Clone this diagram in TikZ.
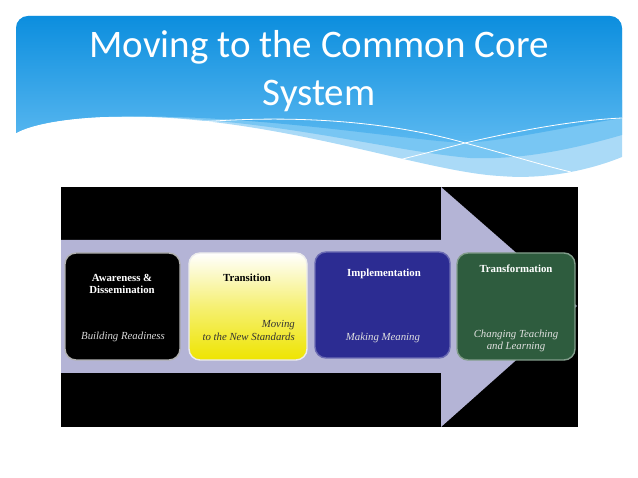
\documentclass[tikz,border=0pt]{standalone}
\usepackage{fontspec}
\setmainfont{Liberation Serif}
\newfontfamily\slidefont{Carlito}
\usepackage{xcolor}
\usetikzlibrary{positioning, calc}
\definecolor{hdtop}{RGB}{12,142,222}
\definecolor{hdbot}{RGB}{90,184,240}
\definecolor{hdmid}{RGB}{120,198,243}
\definecolor{hdlight}{RGB}{170,218,247}
\definecolor{arrowgray}{RGB}{180,180,214}
\definecolor{stageylw}{RGB}{238,228,0}
\definecolor{stageblue}{RGB}{44,44,146}
\definecolor{stagegreen}{RGB}{46,92,62}
\tikzset{
  stagebox/.style={rectangle, rounded corners=11pt, line width=1.4pt, inner sep=0pt},
  stagehead/.style={font=\fontsize{10.8}{12.5}\selectfont\bfseries, align=center, inner sep=0pt},
  stagesub/.style={font=\fontsize{10.8}{13}\selectfont\itshape, align=center, inner sep=0pt},
  waveline/.style={white, line width=0.8pt},
}

\begin{document}
\begin{tikzpicture}[x=1pt, y=-1pt]
  \useasboundingbox (0,0) rectangle (638,478);
  % header band with wave (y runs downwards, so angles are mirrored)
  \fill[hdlight] (16,133) -- (16,28) arc[start angle=180, end angle=270, radius=12] -- (610,16)
    arc[start angle=270, end angle=360, radius=12] -- (622,157)
    .. controls (590,170) and (545,180) .. (500,176)
    .. controls (420,172) and (260,110) .. (100,117)
    .. controls (60,119) and (30,125) .. (16,133) -- cycle;
  \fill[hdmid] (16,133) -- (16,100) -- (622,100) -- (622,135)
    .. controls (570,150) and (520,160) .. (470,158)
    .. controls (380,150) and (250,112) .. (100,117)
    .. controls (60,119) and (30,125) .. (16,133) -- cycle;
  \shade[top color=hdtop, bottom color=hdbot] (16,133) -- (16,28) arc[start angle=180, end angle=270, radius=12] -- (610,16)
    arc[start angle=270, end angle=360, radius=12] -- (622,118)
    .. controls (560,128) and (510,140) .. (465,143)
    .. controls (400,140) and (250,112) .. (100,117)
    .. controls (60,119) and (30,125) .. (16,133) -- cycle;
  \draw[waveline] (200,122) .. controls (330,112) and (420,130) .. (465,143) .. controls (510,155) and (545,166) .. (571,172);
  \draw[waveline] (391,162) .. controls (430,152) and (450,147) .. (465,143) .. controls (530,128) and (580,120) .. (622,118);
  \node[font=\slidefont\fontsize{39}{48}\selectfont, text=white, align=center] (title) at (319,71) {Moving to the Common Core\\System};

  % diagram panel
  \fill[black] (61,187) rectangle (578,427);
  \fill[arrowgray] (61,240) -- (441,240) -- (441,187) -- (577,306) -- (441,427) -- (441,373) -- (61,373) -- cycle;

  \node[stagebox, fill=black, draw=gray!60, minimum width=115pt, minimum height=107pt] (aware) at (122.5,306.5) {};
  \node[stagebox, top color=white, bottom color=stageylw, middle color=stageylw!55!white, draw=white!85!gray, minimum width=118pt, minimum height=107pt] (trans) at (248,306.5) {};
  \node[stagebox, fill=stageblue, draw=stageblue!70!white, minimum width=135pt, minimum height=106pt] (impl) at (382.5,305) {};
  \node[stagebox, fill=stagegreen, draw=stagegreen!60!white, minimum width=118pt, minimum height=107pt] (transf) at (516,306.5) {};

  \node[stagehead, text=white] (awareT) at (122,284) {Awareness \&\\Dissemination};
  \node[stagesub, text=white!85!black] (awareS) at (123,337) {Building Readiness};
  \node[stagehead, text=black] (transT) at (247,278) {Transition};
  \node[stagesub, text=black!80, align=right, anchor=east] (transS) at (295,330.5) {Moving\\to the New Standards};
  \node[stagehead, text=white] (implT) at (384,274) {Implementation};
  \node[stagesub, text=white!88!black] (implS) at (383,338) {Making Meaning};
  \node[stagehead, text=white] (transfT) at (516,269) {Transformation};
  \node[stagesub, text=white!88!black, font=\fontsize{10.8}{12}\selectfont\itshape] (transfS) at (516,341) {Changing Teaching\\and Learning};
\end{tikzpicture}
\end{document}
